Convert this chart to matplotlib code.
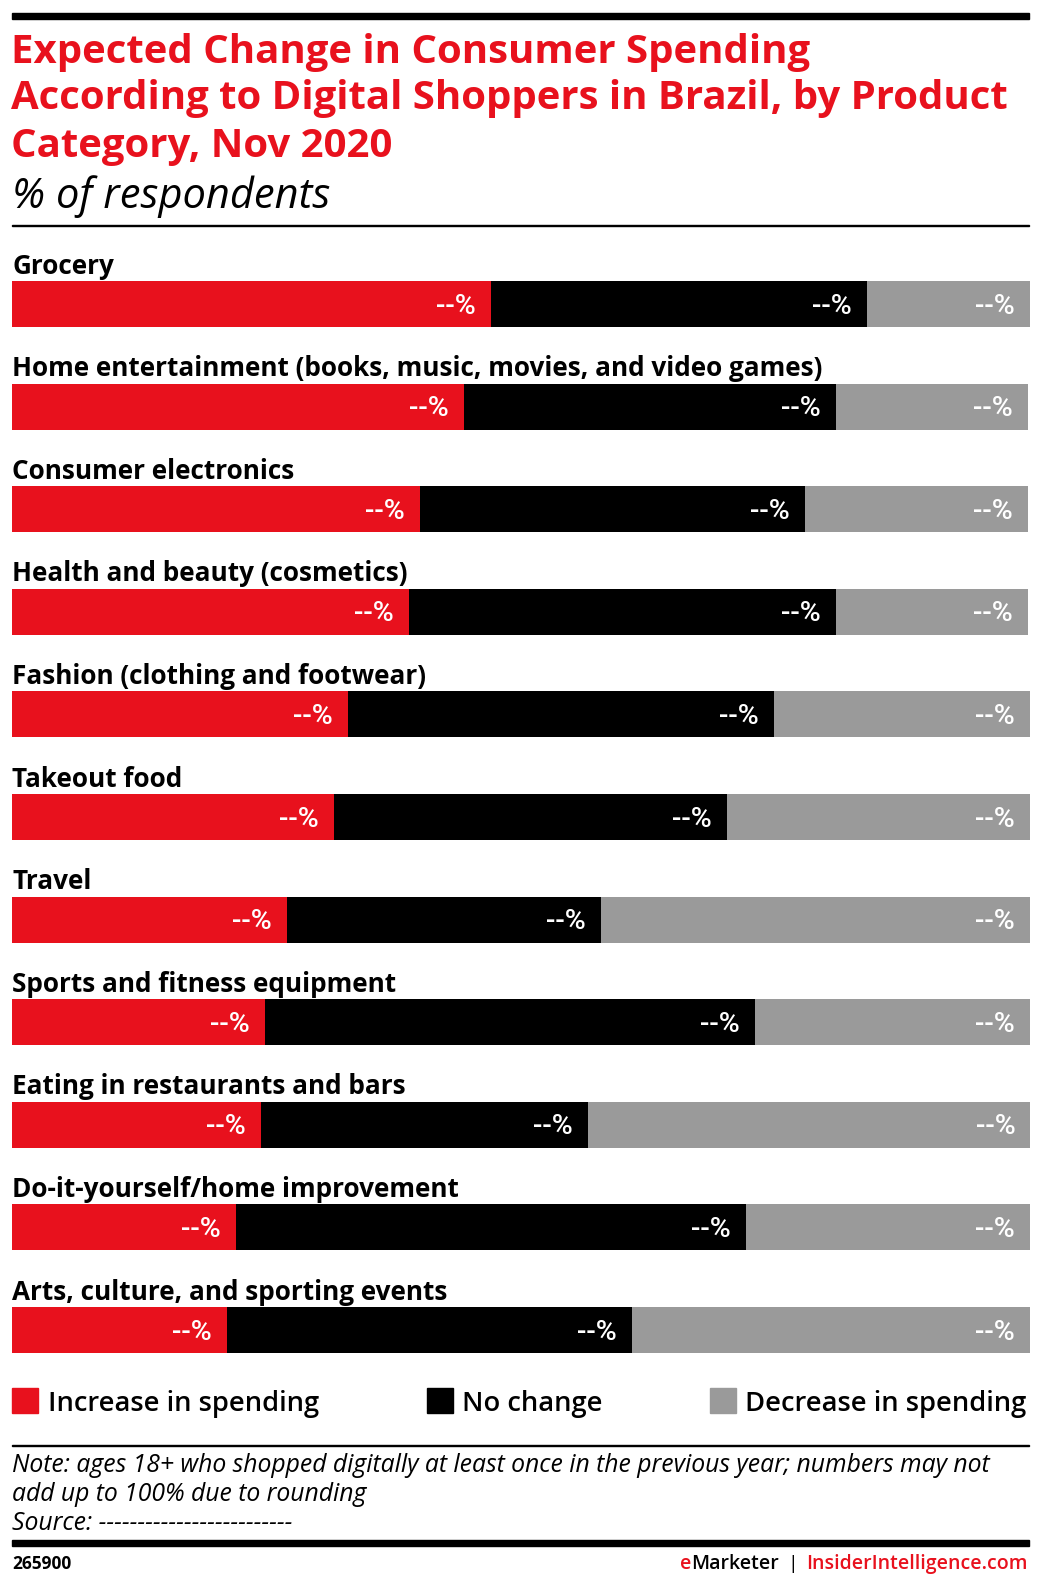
import matplotlib.pyplot as plt
from matplotlib.patches import Rectangle

plt.rcParams['font.family'] = ['Open Sans', 'DejaVu Sans']

W, H = 1041, 1588

categories = [
    "Grocery",
    "Home entertainment (books, music, movies, and video games)",
    "Consumer electronics",
    "Health and beauty (cosmetics)",
    "Fashion (clothing and footwear)",
    "Takeout food",
    "Travel",
    "Sports and fitness equipment",
    "Eating in restaurants and bars",
    "Do-it-yourself/home improvement",
    "Arts, culture, and sporting events",
]
increase = [47.0, 44.4, 40.1, 39.0, 33.0, 31.6, 27.0, 24.8, 24.4, 22.0, 21.1]
no_change = [37.0, 36.6, 37.8, 42.0, 41.9, 38.6, 30.9, 48.2, 32.2, 50.1, 39.8]
decrease = [16.0, 18.8, 21.9, 18.8, 25.1, 29.8, 42.1, 27.0, 43.5, 27.9, 39.1]
series_names = ["Increase in spending", "No change", "Decrease in spending"]
bar_labels = "--%"

RED = "#e8111d"
BLACK = "#000000"
GRAY = "#9a9a9a"
colors = [RED, BLACK, GRAY]


def fx(x):
    return x / W


def fy(y):
    return 1 - y / H


fig = plt.figure(figsize=(W / 100, H / 100), dpi=100)

# header
fig.add_artist(Rectangle((fx(12), fy(19)), fx(1029) - fx(12), 6 / H,
                         color=BLACK, transform=fig.transFigure))
title = ["Expected Change in Consumer Spending",
         "According to Digital Shoppers in Brazil, by Product",
         "Category, Nov 2020"]
for i, line in enumerate(title):
    fig.text(fx(11), fy(52 + i * 47), line, color=RED, fontsize=28.9,
             fontweight='bold', va='center', ha='left')
fig.text(fx(12), fy(197), "% of respondents", fontsize=30, style='italic',
         va='center', ha='left')
fig.add_artist(Rectangle((fx(12), fy(226)), fx(1029) - fx(12), 1.5 / H,
                         color=BLACK, transform=fig.transFigure))

# bars
n = len(categories)
row_top, pitch = 304 - 51.3, 102.6
ax = fig.add_axes([fx(12.3), fy(row_top + n * pitch), fx(1029.8) - fx(12.3), n * pitch / H])
ax.set_xlim(0, 100)
ax.set_ylim(n - 0.5, -0.5)
ax.axis('off')

rows = list(range(n))
lefts = [0.0] * n
for vals, col in zip([increase, no_change, decrease], colors):
    ax.barh(rows, vals, left=lefts, height=0.45, color=col, edgecolor='none')
    for r in rows:
        ax.text(lefts[r] + vals[r] - 1.5, r + 0.02, bar_labels, color='white',
                fontsize=20.5, fontweight='medium', family=['Roboto', 'DejaVu Sans'],
                ha='right', va='center')
    lefts = [a + b for a, b in zip(lefts, vals)]

for r, cat in zip(rows, categories):
    ax.text(0, r - 0.37, cat, fontsize=18.8, fontweight='bold', ha='left',
            va='center', clip_on=False)

# legend
legend_pos = [(12, 48), (427, 462), (710, 745)]
for (sx, tx), name, col in zip(legend_pos, series_names, colors):
    fig.add_artist(Rectangle((fx(sx), fy(1413)), 26 / W, 25 / H, color=col,
                             transform=fig.transFigure))
    fig.text(fx(tx), fy(1404), name, fontsize=19.7, fontweight='semibold',
             va='center', ha='left')

fig.add_artist(Rectangle((fx(12), fy(1446)), fx(1029) - fx(12), 1.5 / H,
                         color=BLACK, transform=fig.transFigure))
notes = ["Note: ages 18+ who shopped digitally at least once in the previous year; numbers may not",
         "add up to 100% due to rounding",
         "Source: -------------------------"]
for i, line in enumerate(notes):
    fig.text(fx(12), fy(1466 + i * 28.5), line, fontsize=17.8, style='italic',
             va='center', ha='left')

fig.add_artist(Rectangle((fx(12), fy(1546)), fx(1029) - fx(12), 6 / H,
                         color=BLACK, transform=fig.transFigure))
fig.text(fx(12), fy(1564), "265900", fontsize=12.5, fontweight='bold',
         va='center', ha='left')
t_site = fig.text(fx(1028), fy(1564), "InsiderIntelligence.com", fontsize=14,
                  fontweight='semibold', color=RED, va='center', ha='right')
t_bar = ax.annotate("|", xy=(0, 0.5), xycoords=t_site, xytext=(-6, 0),
                    textcoords='offset points', fontsize=14, va='center', ha='right')
t_mk = ax.annotate("Marketer", xy=(0, 0.5), xycoords=t_bar, xytext=(-6, 0),
                   textcoords='offset points', fontsize=14, fontweight='semibold',
                   va='center', ha='right')
ax.annotate("e", xy=(0, 0.5), xycoords=t_mk, xytext=(0, 0),
            textcoords='offset points', fontsize=14, fontweight='semibold',
            color=RED, va='center', ha='right')

fig.savefig("out.png", dpi=100)
